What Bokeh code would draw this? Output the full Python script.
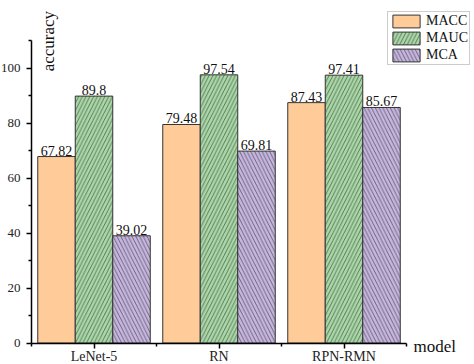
import math
from bokeh.plotting import figure
from bokeh.models import ColumnDataSource, FixedTicker, Range1d, Label, Legend, LegendItem
from bokeh.embed import file_html
from bokeh.resources import INLINE
from bokeh.core.properties import value

models = ["LeNet-5", "RN", "RPN-RMN"]
series = ["MACC", "MAUC", "MCA"]
macc = [67.82, 79.48, 87.43]
mauc = [89.8, 97.54, 97.41]
mca = [39.02, 69.81, 85.67]
y_ticks = [0, 20, 40, 60, 80, 100]

colors = ["#FFCC99", "#A8D9A6", "#C6B5E0"]
hatches = [" ", "/", "\\"]
offsets = [-0.3, 0.0, 0.3]
FONT = "Liberation Serif"

p = figure(width=474, height=364, x_range=Range1d(-0.248, 3.544), y_range=Range1d(-7.8, 124.57),
           output_backend="svg", toolbar_location=None,
           min_border_left=0, min_border_right=0, min_border_top=0, min_border_bottom=0)
p.outline_line_color = None
p.xgrid.grid_line_color = None
p.ygrid.grid_line_color = None

items = []
for vals, name, col, hp, off in zip([macc, mauc, mca], series, colors, hatches, offsets):
    src = ColumnDataSource(dict(x=[i + 0.5 + off for i in range(len(models))], top=vals,
                                lbl=[str(v) for v in vals]))
    r = p.vbar(x="x", top="top", width=0.3, source=src, fill_color=col, line_color="#333333",
               line_width=1, hatch_pattern=hp, hatch_color="#333333", hatch_scale=7.5, hatch_weight=0.6)
    p.text(x="x", y="top", text="lbl", source=src, text_align="center", text_baseline="bottom",
           y_offset=-1, text_font=value(FONT), text_font_size="14px", text_color="#111111")
    items.append(LegendItem(label=name, renderers=[r]))

legend = Legend(items=items, location=(387, 299), border_line_color="#999999", border_line_width=1,
                background_fill_color="white", background_fill_alpha=1,
                label_text_font=FONT, label_text_font_size="14px", label_text_color="#111111",
                glyph_width=34, glyph_height=16, spacing=1, padding=1, margin=0, label_standoff=3,
                label_height=16)
p.add_layout(legend)

# y axis
p.yaxis.fixed_location = 0
p.yaxis.bounds = (0, 110)
p.yaxis.ticker = FixedTicker(ticks=y_ticks, minor_ticks=[v + 10 for v in y_ticks])
p.yaxis.axis_line_width = 1.5
p.yaxis.axis_line_color = "black"
p.yaxis.major_tick_out = 5
p.yaxis.major_tick_in = 0
p.yaxis.minor_tick_out = 3
p.yaxis.minor_tick_in = 0
p.yaxis.major_tick_line_width = 1.5
p.yaxis.minor_tick_line_width = 1.5
p.yaxis.major_label_text_font = FONT
p.yaxis.major_label_text_font_size = "13px"
p.yaxis.major_label_text_color = "#222222"
p.yaxis.major_label_standoff = 6

# x axis
p.xaxis.fixed_location = 0
p.xaxis.bounds = (0, 3)
p.xaxis.ticker = FixedTicker(ticks=[i + 0.5 for i in range(len(models))],
                             minor_ticks=list(range(len(models) + 1)))
p.xaxis.major_label_overrides = {i + 0.5: m for i, m in enumerate(models)}
p.xaxis.axis_line_width = 1.5
p.xaxis.axis_line_color = "black"
p.xaxis.major_tick_out = 5
p.xaxis.major_tick_in = 0
p.xaxis.minor_tick_out = 3
p.xaxis.minor_tick_in = 0
p.xaxis.major_tick_line_width = 1.5
p.xaxis.minor_tick_line_width = 1.5
p.xaxis.major_label_text_font = FONT
p.xaxis.major_label_text_font_size = "14px"
p.xaxis.major_label_text_color = "#222222"
p.xaxis.major_label_standoff = 1

p.add_layout(Label(x=3, y=0, text="model", x_offset=7, y_offset=-3, text_baseline="middle",
                   text_font=FONT, text_font_size="17px", text_color="#111111"))
p.add_layout(Label(x=0, y=98.8, text="accuracy", angle=math.pi / 2, x_offset=17, text_align="left",
                   text_baseline="middle", text_font=FONT, text_font_size="17px", text_color="#111111"))

open("out.html", "w").write(file_html(p, INLINE))
